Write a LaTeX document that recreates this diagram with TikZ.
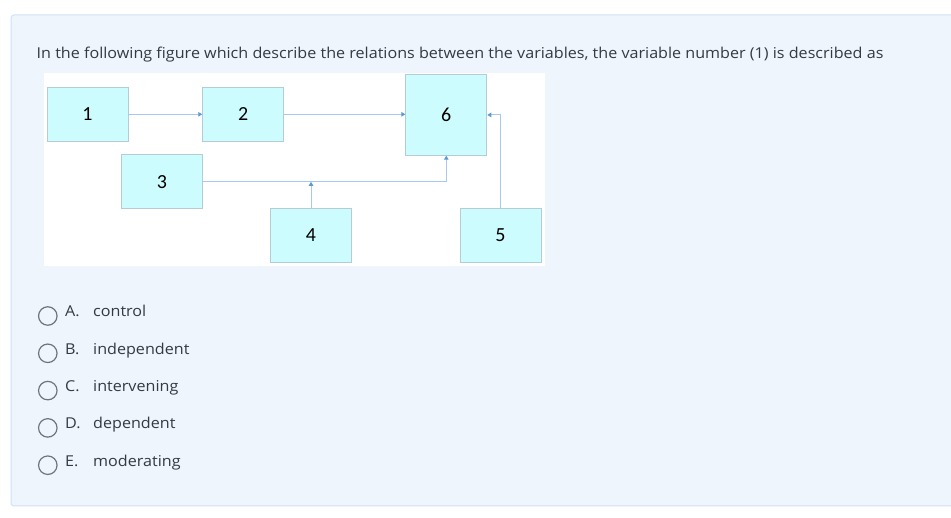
\documentclass[tikz,border=0pt]{standalone}
\usepackage{fontspec}
\setmainfont{Open Sans}[FakeStretch=1.075]
\newfontfamily\boxfont{Carlito}
\usetikzlibrary{arrows.meta,calc}
\definecolor{panelbg}{HTML}{EEF5FD}
\definecolor{panelline}{HTML}{CFE2F7}
\definecolor{boxfill}{HTML}{CCFCFD}
\definecolor{boxline}{HTML}{B4CCD6}
\definecolor{connline}{HTML}{A8C8EC}
\definecolor{tipblue}{HTML}{5B9BD5}
\definecolor{txt}{HTML}{343A40}
\definecolor{radio}{HTML}{6C757D}
\tikzset{
  varbox/.style={draw=boxline, line width=0.9pt, fill=boxfill, minimum width=81pt, minimum height=54pt, inner sep=0pt, font=\boxfont\fontsize{20}{24}\selectfont, text=black},
  conn/.style={draw=connline, line width=0.9pt, -{Triangle[length=4pt,width=4.5pt,fill=tipblue,color=tipblue]}},
  qtext/.style={anchor=base west, inner sep=0pt, text=txt, font=\fontsize{15}{18}\selectfont},
  radiobtn/.style={circle, draw=radio, line width=1.2pt, minimum size=18.5pt, inner sep=0pt}
}
\begin{document}
\begin{tikzpicture}[x=1pt,y=-1pt]
\useasboundingbox (0,0) rectangle (951,518);
\clip (0,0) rectangle (951,518);
\fill[white] (0,0) rectangle (951,518);
\draw[panelline, fill=panelbg, line width=1pt, rounded corners=3pt] (11,15) rectangle (970,506);
\node[qtext] (q) at (36.5,58.3) {In the following figure which describe the relations between the variables, the variable number (1) is described as};
% figure background
\fill[white] (43.5,72.6) rectangle (544.5,266.4);
\node[varbox] (b1) at (87.5,114.3) {1};
\node[varbox] (b2) at (243.2,114.3) {2};
\node[varbox, minimum height=80.6pt] (b6) at (446.3,114.9) {6};
\node[varbox, minimum height=53.7pt] (b3) at (162,181.8) {3};
\node[varbox, minimum height=53.8pt] (b4) at (311,235.5) {4};
\node[varbox, minimum height=53.8pt] (b5) at (500.5,235.5) {5};
\draw[conn] (b1.east) -- (b2.west);
\draw[conn] (b2.east) -- (b2.east -| b6.west);
\draw[conn] (b3.east) -| (b6.south);
\draw[conn] (b4.north) -- (b4.north |- b3.east);
\draw[conn] (b5.north) |- (b6.east);
% options
\foreach \i/\l/\t in {0/A/control,1/B/independent,2/C/intervening,3/D/dependent,4/E/moderating}{
  \node[radiobtn] (r\l) at (47.8,{316+37.3*\i}) {};
  \node[qtext] (l\l) at (65,{317+37.3*\i}) {\l.};
  \node[qtext] (t\l) at (93,{317+37.3*\i}) {\t};
}
\end{tikzpicture}
\end{document}
